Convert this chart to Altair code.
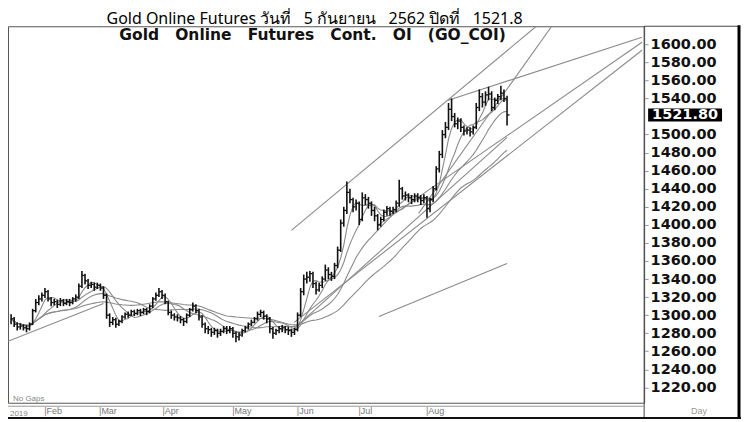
import altair as alt
import pandas as pd

# ---- daily OHLC, index = trading day ----
closes = [1296,1290,1287,1288,1286,1285,1290,1305,1314,1318,
          1322,1326,1318,1314,1315,1312,1316,1313,1315,1314,
          1318,1320,1332,1344,1338,1333,1334,1331,1333,1330,
          1322,1300,1292,1295,1290,1293,1298,1301,1300,1304,
          1302,1305,1303,1306,1304,1310,1318,1322,1326,1322,
          1315,1303,1300,1298,1297,1295,1293,1300,1306,1310,
          1305,1298,1290,1285,1284,1281,1283,1280,1282,1285,
          1283,1285,1280,1276,1278,1283,1286,1290,1292,1296,
          1301,1303,1299,1296,1285,1280,1283,1285,1286,1284,
          1283,1281,1284,1300,1326,1340,1342,1346,1335,1328,
          1333,1340,1350,1345,1343,1355,1372,1402,1416,1436,
          1428,1420,1424,1406,1430,1428,1424,1416,1410,1400,
          1406,1414,1418,1415,1417,1424,1440,1432,1433,1430,
          1428,1432,1430,1427,1430,1418,1428,1440,1462,1478,
          1500,1508,1528,1520,1512,1515,1508,1504,1505,1503,
          1508,1530,1542,1536,1544,1545,1530,1538,1542,1546,
          1540,1521.8]
highs = [1301,1298,1292,1291,1290,1289,1292,1307,1318,1322,
         1325,1330,1328,1320,1318,1317,1319,1318,1318,1318,
         1320,1323,1335,1349,1346,1340,1337,1336,1336,1335,
         1332,1324,1302,1298,1297,1295,1300,1303,1304,1306,
         1306,1307,1307,1308,1308,1312,1320,1325,1330,1328,
         1324,1316,1305,1302,1301,1299,1297,1302,1308,1314,
         1312,1307,1300,1292,1288,1286,1286,1285,1285,1288,
         1288,1288,1287,1282,1281,1285,1288,1292,1295,1298,
         1304,1306,1305,1301,1298,1287,1285,1288,1289,1288,
         1287,1285,1286,1303,1330,1345,1348,1349,1348,1337,
         1336,1343,1356,1353,1348,1358,1376,1406,1420,1448,
         1440,1430,1428,1426,1436,1434,1431,1426,1420,1412,
         1409,1417,1421,1420,1420,1427,1450,1442,1437,1435,
         1433,1435,1435,1433,1434,1432,1430,1443,1465,1482,
         1505,1514,1535,1540,1524,1519,1518,1510,1508,1508,
         1510,1535,1550,1546,1548,1553,1548,1541,1545,1554,
         1550,1543]
lows = [1290,1287,1283,1284,1283,1281,1283,1289,1303,1311,
        1315,1319,1315,1310,1311,1308,1310,1310,1311,1310,
        1312,1315,1318,1330,1334,1329,1330,1327,1329,1327,
        1318,1296,1287,1289,1286,1288,1291,1296,1297,1299,
        1299,1300,1299,1301,1300,1302,1308,1316,1320,1318,
        1312,1300,1296,1294,1293,1291,1288,1291,1298,1304,
        1302,1294,1286,1280,1279,1276,1278,1275,1277,1280,
        1279,1280,1275,1270,1272,1276,1281,1284,1288,1291,
        1294,1298,1295,1291,1280,1274,1278,1280,1281,1280,
        1278,1276,1278,1282,1298,1322,1335,1337,1330,1323,
        1326,1330,1338,1340,1338,1340,1352,1370,1398,1412,
        1424,1414,1416,1400,1404,1422,1418,1410,1404,1394,
        1398,1404,1410,1410,1412,1414,1420,1428,1427,1425,
        1423,1425,1425,1422,1424,1408,1414,1425,1438,1458,
        1474,1496,1505,1515,1508,1506,1503,1499,1500,1498,
        1500,1506,1526,1530,1532,1538,1526,1527,1534,1538,
        1536,1510]

ma_periods = [5, 10, 20, 40]

# trendlines: (id, start index, start price, end index, end price)
tl_id = ["A", "B", "C", "D", "E", "F", "G", "H"]
tl_i0 = [91.0, 141.9, 119.0, 91.9, 132.3, 119.4, 91.9, -1.0]
tl_p0 = [1393.9, 1538.0, 1399.5, 1292.0, 1412.7, 1298.6, 1285.3, 1271.0]
tl_i1 = [170.5, 204.8, 204.8, 204.8, 175.5, 161.0, 161.0, 30.0]
tl_p1 = [1620.0, 1607.8, 1602.2, 1593.4, 1620.0, 1357.3, 1497.0, 1313.0]

month_idx = [10.6, 28.4, 49.0, 71.6, 92.6, 112.6, 134.5]
month_lbl = ["Feb", "Mar", "Apr", "May", "Jun", "Jul", "Aug"]

y_ticks = [1600, 1580, 1560, 1540, 1500, 1480, 1460, 1440, 1420, 1400, 1380,
           1360, 1340, 1320, 1300, 1280, 1260, 1240, 1220]
last_price = 1521.8

NB = "\u00a0"
title_txt = f"Gold Online Futures วันที่{NB*3}5 กันยายน{NB*3}2562 ปิดที่{NB*3}1521.8"
sub_txt = (NB * 3).join(["Gold", "Online", "Futures", "Cont.", "OI", "(GO_COI)"])

W, H = 637, 377
df = pd.DataFrame({"i": list(range(len(closes))), "c": closes, "h": highs, "l": lows})

xs = alt.Scale(domain=[-1, 205.5], nice=False, zero=False)
ys = alt.Scale(domain=[1203, 1620], nice=False, zero=False)

label_expr = " : ".join([f"datum.value === {v} ? '|{m}'" for v, m in zip(month_idx, month_lbl)]) + " : ''"

x_axis = alt.Axis(values=month_idx, labelExpr=label_expr, orient="bottom", tickSize=0, ticks=False,
                  domain=False, grid=False, labelFontSize=9, labelColor="#777",
                  labelAlign="left", labelPadding=4, labelFont="Liberation Sans", title=None,
                  labelOverlap=False)
y_axis = alt.Axis(orient="right", values=y_ticks, format=".2f", labelFont="DejaVu Sans",
                  labelFontWeight="bold", labelFontSize=14.5, labelColor="#111",
                  tickSize=4, tickColor="#999", domain=False, grid=False,
                  labelPadding=2, title=None, labelOverlap=False)

def X(field="i"):
    return alt.X(f"{field}:Q", scale=xs, axis=x_axis)

def Y(field):
    return alt.Y(f"{field}:Q", scale=ys, axis=y_axis)

# moving averages
ma_layers = []
for p in ma_periods:
    ma_layers.append(
        alt.Chart(df).transform_window(ma="mean(c)", frame=[-(p - 1), 0])
        .mark_line(color="#8a8a8a", strokeWidth=1.1, clip=True)
        .encode(x=X(), y=Y("ma"))
    )

# trendlines
rows = []
for k, a0, b0, a1, b1 in zip(tl_id, tl_i0, tl_p0, tl_i1, tl_p1):
    rows.append({"id": k, "i": a0, "p": b0})
    rows.append({"id": k, "i": a1, "p": b1})
tdf = pd.DataFrame(rows)
trend = alt.Chart(tdf).mark_line(color="#8a8a8a", strokeWidth=1.1, clip=True).encode(
    x=X(), y=Y("p"), detail="id:N")

# OHLC bars
bars = alt.Chart(df).mark_rule(color="#111", strokeWidth=1.6).encode(
    x=X(), y=Y("l"), y2="h:Q")
close_tick = alt.Chart(df).mark_rule(color="#111", strokeWidth=1.3, x2Offset=2.5).encode(
    x=X(), x2="i:Q", y=Y("c"))

# last price marker
lp = pd.DataFrame({"p": [last_price], "t": [f"{last_price:.2f}"]})
lp_box = alt.Chart(lp).mark_rect(color="#000", yOffset=-6.5, y2Offset=6.5).encode(
    x=alt.value(641), x2=alt.value(715), y=Y("p"), y2="p:Q")
lp_txt = alt.Chart(lp).mark_text(color="white", font="DejaVu Sans", fontWeight="bold",
                                 fontSize=14.5, align="center", baseline="middle").encode(
    x=alt.value(678), y=Y("p"), text="t:N")

# frame decorations
one = pd.DataFrame({"k": [0]})
def rule(x, x2, y, y2, color, sw):
    return alt.Chart(one).mark_rule(color=color, strokeWidth=sw).encode(
        x=alt.value(x), x2=alt.value(x2), y=alt.value(y), y2=alt.value(y2))

decor = [
    rule(637, 732, 0, 0, "#444", 1),
    rule(637, 637, 0, 392, "#444", 1),
    rule(732, 732, -1, 393, "#000", 3),
    rule(0, 637, 380.5, 380.5, "#999", 1),
    rule(0, 734, 392.5, 392.5, "#111", 2.5),
]

def txt(s, x, y, size, color, weight="normal", align="left", baseline="middle", font="Liberation Sans"):
    return alt.Chart(pd.DataFrame({"t": [s]})).mark_text(
        fontSize=size, color=color, fontWeight=weight, align=align, baseline=baseline, font=font
    ).encode(x=alt.value(x), y=alt.value(y), text="t:N")

texts = [
    txt(title_txt, 307, -2, 16, "#000", align="center", baseline="alphabetic", font="Noto Sans"),
    txt(sub_txt, 305, 9, 15.5, "#111", weight="bold", align="center", font="DejaVu Sans"),
    txt("Day", 692, 385, 9, "#999", align="center"),
    txt("No Gaps", 5, 373, 8, "#888"),
    txt("2019", 2, 388, 8, "#888"),
]

chart = alt.layer(*ma_layers, trend, bars, close_tick, lp_box, lp_txt, *decor, *texts).properties(
    width=W, height=H,
    autosize=alt.AutoSizeParams(type="none"),
    padding={"left": 0, "top": 18, "right": 98, "bottom": 16},
    background="white",
).configure_view(stroke="#555", strokeWidth=1)

chart.save("out.html", embed_options={"renderer": "svg", "actions": False})
